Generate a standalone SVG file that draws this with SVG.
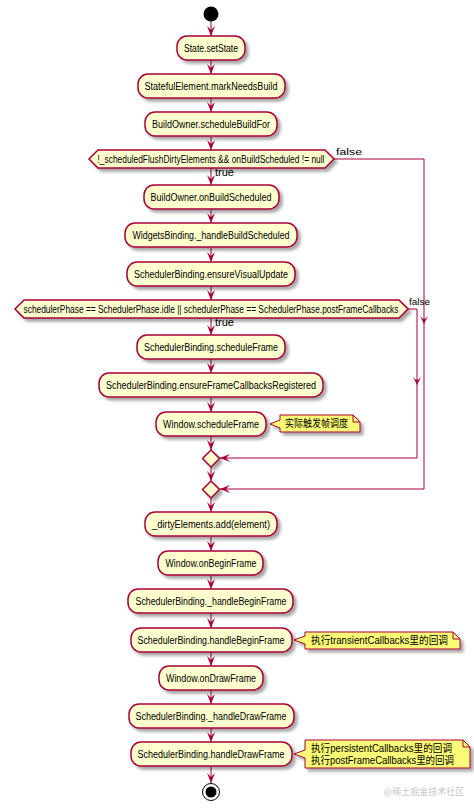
<svg xmlns="http://www.w3.org/2000/svg" width="474" height="810" viewBox="0 0 474 810">
<style>
.n rect{fill:#FEFECE;stroke:#A80036;stroke-width:1.5;filter:url(#sh)}
.n polygon{fill:#FEFECE;stroke:#A80036;stroke-width:1.5;filter:url(#sh)}
.t{font-family:"Liberation Sans",Arial,sans-serif;font-size:10px;fill:#000;text-anchor:middle}
.l{font-family:"Liberation Sans",Arial,sans-serif;font-size:10px;fill:#000}
.f9{font-size:9px}
.nt path.b{fill:#FBFB77;stroke:#A80036;stroke-width:1;filter:url(#sh)}
.nt path.f{fill:none;stroke:#A80036;stroke-width:1}
.nt text{font-family:"Liberation Sans","Noto Sans CJK SC",sans-serif;font-size:10px;fill:#000}
#edges path{fill:none;stroke:#A80036;stroke-width:1}
</style>
<defs>
<filter id="sh" x="-20%" y="-30%" width="140%" height="180%">
<feGaussianBlur in="SourceAlpha" stdDeviation="1.5"/>
<feOffset dx="3" dy="3" result="o"/>
<feComponentTransfer><feFuncA type="linear" slope="0.35"/></feComponentTransfer>
<feMerge><feMergeNode/><feMergeNode in="SourceGraphic"/></feMerge>
</filter>
<marker id="a" viewBox="0 0 10 10" refX="10" refY="5" markerWidth="10" markerHeight="10" markerUnits="userSpaceOnUse" orient="auto">
<path d="M0,1 L10,5 L0,9 L4,5 Z" fill="#A80036"/>
</marker>
<marker id="m" viewBox="0 0 10 10" refX="5" refY="5" markerWidth="10" markerHeight="10" markerUnits="userSpaceOnUse" orient="auto">
<path d="M1,1 L9,5 L1,9 L5,5 Z" fill="#A80036"/>
</marker>
</defs>
<rect width="474" height="810" fill="#fff"/>

<g id="edges">
<path d="M211,21 V36" marker-end="url(#a)"/>
<path d="M211,60 V74" marker-end="url(#a)"/>
<path d="M211,98 V112" marker-end="url(#a)"/>
<path d="M211,137 V150" marker-end="url(#a)"/>
<path d="M211,168 V185" marker-end="url(#a)"/>
<path d="M211,209 V223" marker-end="url(#a)"/>
<path d="M211,248 V262" marker-end="url(#a)"/>
<path d="M211,286 V300" marker-end="url(#a)"/>
<path d="M211,318 V335" marker-end="url(#a)"/>
<path d="M211,359 V373" marker-end="url(#a)"/>
<path d="M211,398 V412" marker-end="url(#a)"/>
<path d="M211,436 V450" marker-end="url(#a)"/>
<path d="M211,467 V481" marker-end="url(#a)"/>
<path d="M211,497 V512" marker-end="url(#a)"/>
<path d="M211,537 V551" marker-end="url(#a)"/>
<path d="M211,575 V589" marker-end="url(#a)"/>
<path d="M211,613 V628" marker-end="url(#a)"/>
<path d="M211,652 V666" marker-end="url(#a)"/>
<path d="M211,690 V704" marker-end="url(#a)"/>
<path d="M211,728 V742" marker-end="url(#a)"/>
<path d="M211,767 V783" marker-end="url(#a)"/>
<path d="M334,159 H424 V320" marker-end="url(#m)"/>
<path d="M424,318 V489 H220" marker-end="url(#a)"/>
<path d="M408,309 H417 V381" marker-end="url(#m)"/>
<path d="M417,379 V458 H220" marker-end="url(#a)"/>
<text class="l" x="215" y="176" textLength="19" lengthAdjust="spacingAndGlyphs">true</text>
<text class="l f9" x="336" y="155" textLength="26" lengthAdjust="spacingAndGlyphs">false</text>
<text class="l" x="215" y="326" textLength="19" lengthAdjust="spacingAndGlyphs">true</text>
<text class="l f9" x="409" y="305" textLength="21" lengthAdjust="spacingAndGlyphs">false</text>
</g>

<g id="start"><circle cx="211" cy="14" r="7.5" fill="#000"/></g>

<g id="n1" class="n"><rect x="177" y="36" width="68" height="24" rx="10"/><text class="t" x="211" y="51.5" textLength="54" lengthAdjust="spacingAndGlyphs">State.setState</text></g>
<g id="n2" class="n"><rect x="138" y="74" width="147" height="24" rx="10"/><text class="t" x="211" y="89.5" textLength="133" lengthAdjust="spacingAndGlyphs">StatefulElement.markNeedsBuild</text></g>
<g id="n3" class="n"><rect x="145" y="112" width="132" height="24" rx="10"/><text class="t" x="211" y="127.5" textLength="118" lengthAdjust="spacingAndGlyphs">BuildOwner.scheduleBuildFor</text></g>
<g id="d1" class="n"><polygon points="89,159 98,150 325,150 334,159 325,168 98,168"/><text class="t" x="211" y="162.5" textLength="227" lengthAdjust="spacingAndGlyphs">!_scheduledFlushDirtyElements &amp;&amp; onBuildScheduled != null</text></g>
<g id="n4" class="n"><rect x="144" y="185" width="135" height="24" rx="10"/><text class="t" x="211" y="200.5" textLength="121" lengthAdjust="spacingAndGlyphs">BuildOwner.onBuildScheduled</text></g>
<g id="n5" class="n"><rect x="125" y="223" width="172" height="24" rx="10"/><text class="t" x="211" y="238.5" textLength="157" lengthAdjust="spacingAndGlyphs">WidgetsBinding._handleBuildScheduled</text></g>
<g id="n6" class="n"><rect x="127" y="262" width="168" height="24" rx="10"/><text class="t" x="211" y="277.5" textLength="154" lengthAdjust="spacingAndGlyphs">SchedulerBinding.ensureVisualUpdate</text></g>
<g id="d2" class="n"><polygon points="15,309 24,300 399,300 408,309 399,318 24,318"/><text class="t" x="211" y="312.5" textLength="375" lengthAdjust="spacingAndGlyphs">schedulerPhase == SchedulerPhase.idle || schedulerPhase == SchedulerPhase.postFrameCallbacks</text></g>
<g id="n7" class="n"><rect x="137" y="335" width="148" height="24" rx="10"/><text class="t" x="211" y="350.5" textLength="134" lengthAdjust="spacingAndGlyphs">SchedulerBinding.scheduleFrame</text></g>
<g id="n8" class="n"><rect x="99" y="373" width="224" height="24" rx="10"/><text class="t" x="211" y="388.5" textLength="210" lengthAdjust="spacingAndGlyphs">SchedulerBinding.ensureFrameCallbacksRegistered</text></g>
<g id="n9" class="n"><rect x="156" y="412" width="110" height="24" rx="10"/><text class="t" x="211" y="427.5" textLength="96" lengthAdjust="spacingAndGlyphs">Window.scheduleFrame</text></g>
<g id="note1" class="nt"><path class="b" d="M280,415 H353 L360,422 V432 H280 V428 L270,424 L280,420 Z"/><path class="f" d="M353,415 V422 H360"/><text x="285" y="427" textLength="63" lengthAdjust="spacingAndGlyphs">实际触发帧调度</text></g>
<g id="m1" class="n"><polygon points="211,450 219.5,458.5 211,467 202.5,458.5"/></g>
<g id="m2" class="n"><polygon points="211,481 219.5,489.5 211,498 202.5,489.5"/></g>
<g id="n10" class="n"><rect x="145" y="512" width="132" height="24" rx="10"/><text class="t" x="211" y="527.5" textLength="118" lengthAdjust="spacingAndGlyphs">_dirtyElements.add(element)</text></g>
<g id="n11" class="n"><rect x="158" y="551" width="105" height="24" rx="10"/><text class="t" x="211" y="566.5" textLength="91" lengthAdjust="spacingAndGlyphs">Window.onBeginFrame</text></g>
<g id="n12" class="n"><rect x="128" y="589" width="165" height="24" rx="10"/><text class="t" x="211" y="604.5" textLength="151" lengthAdjust="spacingAndGlyphs">SchedulerBinding._handleBeginFrame</text></g>
<g id="n13" class="n"><rect x="131" y="628" width="161" height="24" rx="10"/><text class="t" x="211" y="643.5" textLength="147" lengthAdjust="spacingAndGlyphs">SchedulerBinding.handleBeginFrame</text></g>
<g id="note2" class="nt"><path class="b" d="M305,632 H453 L460,639 V649 H305 V644 L294,640 L305,636 Z"/><path class="f" d="M453,632 V639 H460"/><text x="311" y="644" textLength="137" lengthAdjust="spacingAndGlyphs">执行transientCallbacks里的回调</text></g>
<g id="n14" class="n"><rect x="159" y="666" width="104" height="24" rx="10"/><text class="t" x="211" y="681.5" textLength="90" lengthAdjust="spacingAndGlyphs">Window.onDrawFrame</text></g>
<g id="n15" class="n"><rect x="129" y="704" width="165" height="24" rx="10"/><text class="t" x="211" y="719.5" textLength="151" lengthAdjust="spacingAndGlyphs">SchedulerBinding._handleDrawFrame</text></g>
<g id="n16" class="n"><rect x="131" y="742" width="161" height="24" rx="10"/><text class="t" x="211" y="757.5" textLength="147" lengthAdjust="spacingAndGlyphs">SchedulerBinding.handleDrawFrame</text></g>
<g id="note3" class="nt"><path class="b" d="M305,740 H463 L470,747 V768 H305 V758 L294,754 L305,750 Z"/><path class="f" d="M463,740 V747 H470"/><text x="311" y="752" textLength="141" lengthAdjust="spacingAndGlyphs">执行persistentCallbacks里的回调</text><text x="311" y="764" textLength="143" lengthAdjust="spacingAndGlyphs">执行postFrameCallbacks里的回调</text></g>
<g id="end"><circle cx="211" cy="792" r="8.5" fill="#fff" stroke="#000" stroke-width="1"/><circle cx="211" cy="792" r="5.5" fill="#000"/></g>
<text x="424" y="795" font-family="'Noto Sans CJK SC',sans-serif" font-size="9" fill="#c8c8c8" text-anchor="middle">@稀土掘金技术社区</text>
</svg>
